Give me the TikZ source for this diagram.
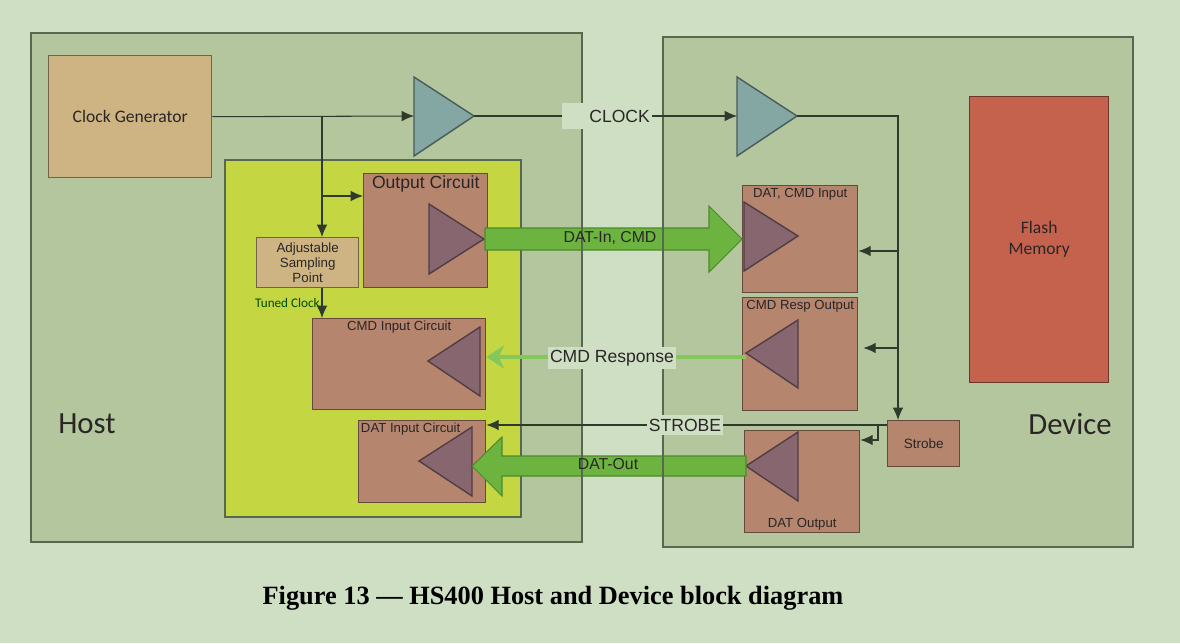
\documentclass[tikz,border=0pt]{standalone}
\usepackage{fontspec}
\usepackage{xcolor}
\usepackage{tikz}
\usetikzlibrary{arrows.meta, positioning, calc}
\setmainfont{Liberation Sans}
\newfontfamily\calfont{Carlito}
\newfontfamily\serfont{Liberation Serif}

\definecolor{pagebg}{HTML}{CFDFC4}
\definecolor{boardbg}{HTML}{B4C69E}
\definecolor{boardline}{HTML}{56684F}
\definecolor{yellowbg}{HTML}{C4D642}
\definecolor{tanbg}{HTML}{CEB482}
\definecolor{circbg}{HTML}{B5856E}
\definecolor{ampbg}{HTML}{876670}
\definecolor{clkbg}{HTML}{85A7A3}
\definecolor{flashbg}{HTML}{C4624E}
\definecolor{busgreen}{HTML}{6DB33F}
\definecolor{busline}{HTML}{4E8A2A}
\definecolor{respgreen}{HTML}{84C75A}
\definecolor{wire}{HTML}{2F3A2C}
\definecolor{ink}{HTML}{2A2626}

\begin{document}
\begin{tikzpicture}[x=0.02cm, y=-0.02cm,
    sz/.style 2 args={minimum width=#1*0.02cm, minimum height=#2*0.02cm},
    board/.style={draw=boardline, line width=1pt, fill=boardbg},
    blk/.style={draw=#1!55!black, fill=#1, line width=0.8pt, inner sep=0pt,
        anchor=north west, align=center, text=ink},
    ttl/.style={inner sep=1.5pt, text=ink, font=\fontsize{7.5}{9}\selectfont},
    amp/.style={draw=ampbg!60!black, fill=ampbg, line width=0.8pt},
    buf/.style={draw=clkbg!55!black, fill=clkbg, line width=0.8pt},
    wire/.style={draw=wire, line width=0.6pt},
    arr/.style={-{Latex[length=7pt, width=6pt]}},
    tag/.style={fill=pagebg, inner xsep=1pt, inner ysep=2pt, text=ink,
        font=\fontsize{10}{12}\selectfont},
    bus/.style={draw=busline, fill=busgreen, line width=0.6pt},
    buslbl/.style={text=ink, font=\fontsize{9}{11}\selectfont, inner sep=0pt}]

    % Page and boards
    \fill[pagebg] (0,0) rectangle (1180,643);
    \useasboundingbox (0,0) rectangle (1180,643);
    \path[board] (31,33) rectangle (582,542);
    \path[board] (663,37) rectangle (1133,547);
    \fill[yellowbg] (225,160) rectangle (521,517);
    \draw[boardline, line width=0.8pt] (225,160) rectangle (521,517);

    % Host blocks
    \node[blk=tanbg, sz={163}{122}, font=\calfont\fontsize{10}{12}\selectfont] (clkgen) at (48,55) {Clock Generator};
    \node[blk=circbg, sz={124}{114},
        label={[ttl, anchor=north, font=\fontsize{10}{12}\selectfont]north:Output Circuit}] (outc) at (363,173) {};
    \node[blk=tanbg, sz={102}{50}, font=\fontsize{7.6}{8.8}\selectfont] (asp) at (256,237) {Adjustable\\Sampling\\Point};
    \node[blk=circbg, sz={173}{91}, label={[ttl, anchor=north]north:CMD Input Circuit}] (cmdin) at (312,318) {};
    \node[blk=circbg, sz={127}{82}, label={[ttl, anchor=north west]north west:DAT Input Circuit}] (dain) at (358,420) {};

    % Device blocks
    \node[blk=circbg, sz={115}{107}, label={[ttl, anchor=north]north:DAT, CMD Input}] (dcmd) at (742,185) {};
    \node[blk=circbg, sz={115}{113}, label={[ttl, anchor=north]north:CMD Resp Output}] (cresp) at (742,297) {};
    \node[blk=circbg, sz={115}{102}, label={[ttl, anchor=south]south:DAT Output}] (dout) at (744,430) {};
    \node[blk=circbg, sz={72}{46}, font=\fontsize{7.7}{9}\selectfont] (strb) at (887,420) {Strobe};
    \node[blk=flashbg, sz={139}{286}, font=\calfont\fontsize{10}{12}\selectfont] (flash) at (969,96) {Flash\\Memory};

    % Clock buffers
    \filldraw[buf] (414,77) -- (414,156) -- (474,116) -- cycle;
    \filldraw[buf] (737,77) -- (737,156) -- (797,116) -- cycle;
    \coordinate (hbin) at (414,116);
    \coordinate (hbout) at (474,116);
    \coordinate (dbin) at (737,116);
    \coordinate (dbout) at (797,116);

    % Driver and receiver triangles
    \filldraw[amp] (429,204) -- (429,274) -- (484,239) -- cycle;
    \filldraw[amp] (480,327) -- (480,396) -- (428,361) -- cycle;
    \filldraw[amp] (472,427) -- (472,496) -- (419,461) -- cycle;
    \filldraw[amp] (744,202) -- (744,271) -- (798,236) -- cycle;
    \filldraw[amp] (798,320) -- (798,388) -- (746,353) -- cycle;
    \filldraw[amp] (798,432) -- (798,501) -- (746,466) -- cycle;

    % Host clock wiring
    \coordinate (br1) at (322,116);
    \coordinate (br2) at (322,196);
    \draw[wire, arr] (clkgen.east) -- (hbin);
    \draw[wire, arr] (br1) -- (br1 |- asp.north);
    \draw[wire, arr] (br2) -- (br2 -| outc.west);
    \draw[wire, arr] (br1 |- asp.south) -- (br1 |- cmdin.north)
        node[midway, left, inner sep=1pt, text=green!30!black,
             font=\calfont\fontsize{7.5}{9}\selectfont] (tuned) {Tuned Clock};

    % Device clock wiring
    \coordinate (dc) at (898,116);
    \coordinate (j1) at (898,251);
    \coordinate (j2) at (898,348);
    \draw[wire, arr] (dbout) -- (dc) -- (dc |- strb.north);
    \draw[wire, arr] (j1) -- (j1 -| dcmd.east);
    \draw[wire, arr, shorten >=0.1cm] (j2) -- (j2 -| cresp.east);

    % DAT-In, CMD bus
    \coordinate (oin) at (485,239);
    \coordinate (din) at (742,239);
    \filldraw[bus] ($(oin)+(0,-11)$) -- ($(din)+(-33,-11)$) -- ($(din)+(-33,-33)$) -- (din)
        -- ($(din)+(-33,33)$) -- ($(din)+(-33,11)$) -- ($(oin)+(0,11)$) -- cycle;

    % DAT-Out bus
    \coordinate (dos) at (746,466);
    \coordinate (dit) at (472,466);
    \filldraw[bus] ($(dos)+(0,-10)$) -- ($(dit)+(30,-10)$) -- ($(dit)+(30,-29)$) -- (dit)
        -- ($(dit)+(30,30)$) -- ($(dit)+(30,10)$) -- ($(dos)+(0,10)$) -- cycle;

    % CMD response
    \coordinate (crs) at (746,357);
    \draw[respgreen, line width=2.8pt, -{Stealth[length=10pt, width=13pt, inset=3pt]}]
        (crs) -- (crs -| cmdin.east);

    % Board edges on top of the buses
    \draw[boardline, line width=1pt] (31,33) rectangle (582,542);
    \draw[boardline, line width=1pt] (663,37) rectangle (1133,547);

    % Strobe wiring
    \coordinate (s0) at (887,425);
    \coordinate (s1) at (878,425);
    \coordinate (s2) at (878,440);
    \node[tag] (stb) at (685,425) {STROBE};
    \draw[wire] (s0) -- (stb.east);
    \draw[wire, arr] (stb.west) -- (s0 -| dain.east);
    \draw[wire, arr] (s1) -- (s2) -- (s2 -| dout.east);

    % CLOCK
    \node[tag, anchor=east, text width=1.72cm, align=right, inner ysep=4pt] (clk) at (652,116) {CLOCK};
    \draw[wire] (hbout) -- (clk.west);
    \draw[wire, arr] (clk.east) -- (dbin);

    % Bus labels
    \node[tag] (cmdresp) at (612,358) {CMD Response};
    \node[buslbl] (dinlbl) at (610,238) {DAT-In, CMD};
    \node[buslbl] (doutlbl) at (608,464) {DAT-Out};

    % Board names
    \node[text=ink, font=\calfont\fontsize{17.5}{20}\selectfont] (host) at (87,424) {Host};
    \node[text=ink, font=\calfont\fontsize{17.5}{20}\selectfont] (dev) at (1070,424) {Device};

    % Caption
    \node[text=black, font=\serfont\bfseries\fontsize{15}{18}\selectfont] (cap) at (553,598)
        {Figure 13 — HS400 Host and Device block diagram};
\end{tikzpicture}
\end{document}
